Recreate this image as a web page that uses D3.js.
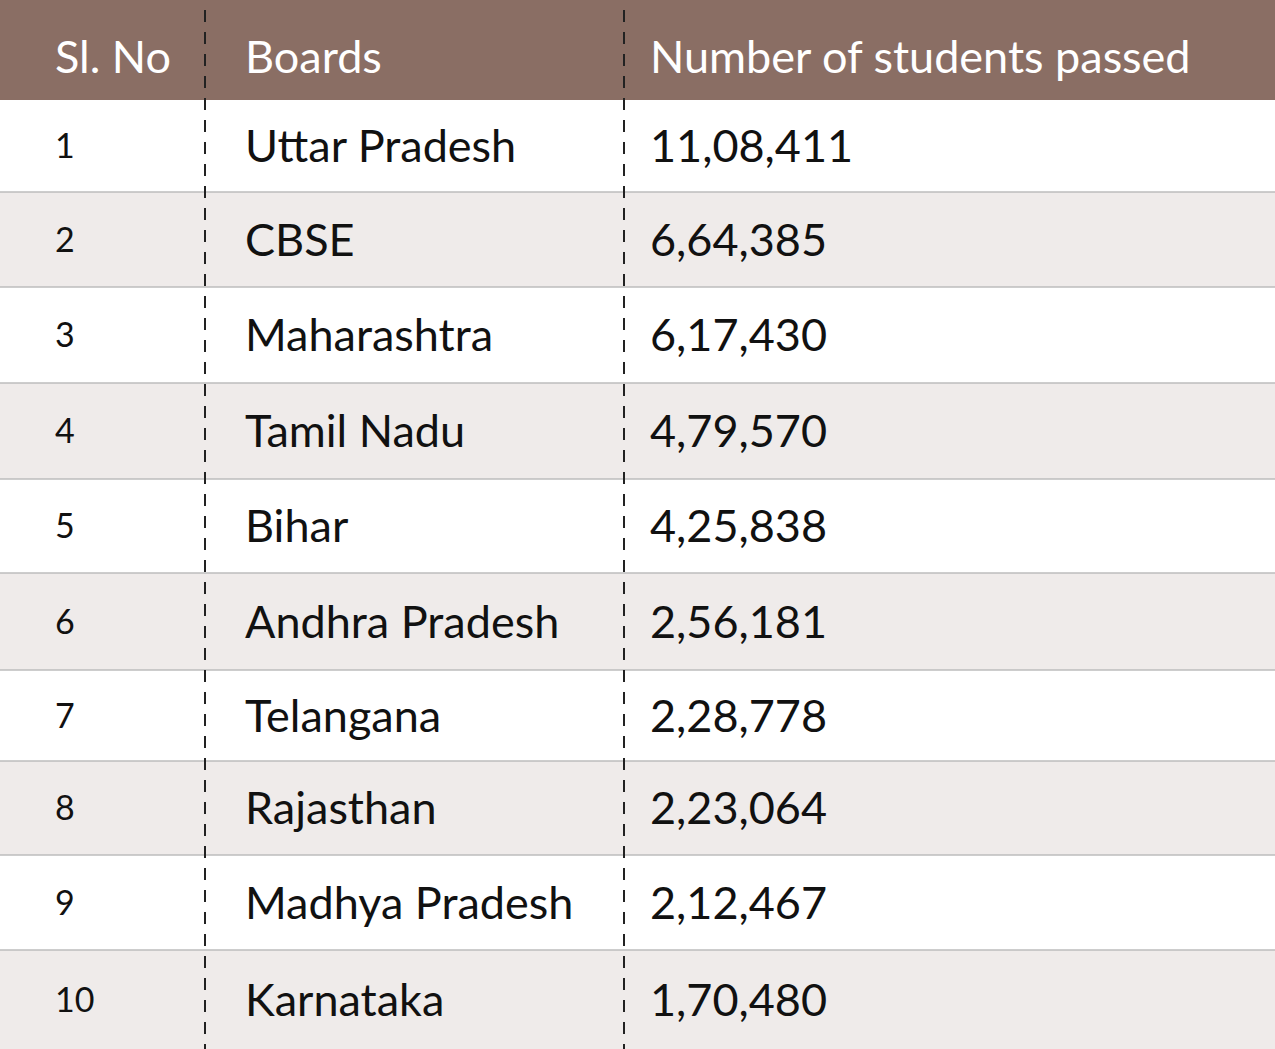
<!DOCTYPE html>
<html><head><meta charset="utf-8">
<script src="https://cdn.jsdelivr.net/npm/d3@7"></script>
<style>body{margin:0;background:#fff}svg{display:block}</style>
</head><body>
<script>
const headers = ["Sl. No", "Boards", "Number of students passed"];
const serials = ["1","2","3","4","5","6","7","8","9","10"];
const boards = ["Uttar Pradesh","CBSE","Maharashtra","Tamil Nadu","Bihar","Andhra Pradesh","Telangana","Rajasthan","Madhya Pradesh","Karnataka"];
const passed = ["11,08,411","6,64,385","6,17,430","4,79,570","4,25,838","2,56,181","2,28,778","2,23,064","2,12,467","1,70,480"];
const rowEdges = [100,192,287,383,479,573,670,761,855,950,1049];

const W=1275,H=1049;
const svg=d3.select("body").append("svg").attr("width",W).attr("height",H);
const font="Lato, 'Open Sans', sans-serif";
svg.append("rect").attr("width",W).attr("height",100).attr("fill","#8a6e64");
const rows=boards.map((b,i)=>({i,s:serials[i],b,p:passed[i],y0:rowEdges[i],y1:rowEdges[i+1]}));
const g=svg.selectAll("g.row").data(rows).enter().append("g");
g.append("rect").attr("x",0).attr("y",d=>d.y0).attr("width",W).attr("height",d=>d.y1-d.y0)
 .attr("fill",d=>d.i%2?"#efebea":"#ffffff");
g.filter(d=>d.i>0).append("line").attr("x1",0).attr("x2",W).attr("y1",d=>d.y0).attr("y2",d=>d.y0)
 .attr("stroke","#bdbdbd").attr("stroke-width",1.5);
g.append("text").attr("x",55).attr("y",d=>d.y0+(d.y1-d.y0)/2+12).text(d=>d.s)
 .attr("font-family",font).attr("font-size",34).attr("fill","#111");
g.append("text").attr("x",245).attr("y",d=>d.y0+(d.y1-d.y0)/2+16).text(d=>d.b)
 .attr("font-family",font).attr("font-size",45).attr("fill","#111");
g.append("text").attr("x",650).attr("y",d=>d.y0+(d.y1-d.y0)/2+16).text(d=>d.p)
 .attr("font-family",font).attr("font-size",45).attr("fill","#111");
const hx=[55,245,650];
svg.selectAll("text.h").data(headers).enter().append("text").attr("x",(d,i)=>hx[i]).attr("y",73)
 .text(d=>d).attr("font-family",font).attr("font-size",45).attr("fill","#fff");
[205,624].forEach(x=>svg.append("line").attr("x1",x).attr("x2",x).attr("y1",10).attr("y2",H)
 .attr("stroke","#222").attr("stroke-width",2).attr("stroke-dasharray","12,10"));
</script>
</body></html>
